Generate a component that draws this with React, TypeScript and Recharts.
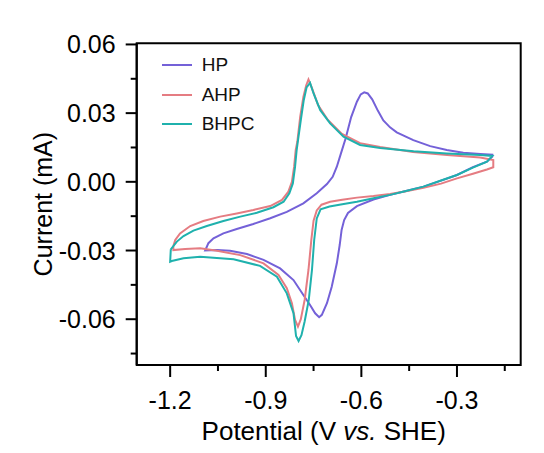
import React from 'react';
import { LineChart, Line, XAxis, YAxis, ReferenceArea, Legend } from 'recharts';

const hpPotential = [-1.087, -1.080, -1.064, -1.033, -0.991, -0.939, -0.886, -0.834, -0.782, -0.740, -0.708, -0.690, -0.677, -0.665, -0.649, -0.632, -0.614, -0.602, -0.591, -0.580, -0.566, -0.548, -0.531, -0.510, -0.489, -0.437, -0.384, -0.332, -0.280, -0.227, -0.189, -0.189, -0.206, -0.250, -0.300, -0.350, -0.405, -0.460, -0.510, -0.562, -0.614, -0.642, -0.654, -0.662, -0.668, -0.677, -0.693, -0.708, -0.724, -0.7325, -0.745, -0.761, -0.782, -0.813, -0.855, -0.907, -0.959, -1.012, -1.053, -1.090, -1.087];
const hpCurrent = [-0.0290, -0.0268, -0.0247, -0.0225, -0.0206, -0.0184, -0.0159, -0.0131, -0.0094, -0.0050, -0.0010, 0.0022, 0.0066, 0.0120, 0.0191, 0.0283, 0.0350, 0.0382, 0.0391, 0.0386, 0.0360, 0.0310, 0.0268, 0.0238, 0.0216, 0.0182, 0.0156, 0.0139, 0.0127, 0.0122, 0.0119, 0.0110, 0.0088, 0.0064, 0.0030, 0.0005, -0.0021, -0.0040, -0.0057, -0.0077, -0.0106, -0.0136, -0.0167, -0.0210, -0.0276, -0.0356, -0.0458, -0.0530, -0.0581, -0.0591, -0.0574, -0.0538, -0.0494, -0.0429, -0.0378, -0.0341, -0.0315, -0.0301, -0.0298, -0.0300, -0.0290];

const ahpPotential = [-1.190, -1.184, -1.169, -1.137, -1.096, -1.043, -0.991, -0.939, -0.886, -0.849, -0.829, -0.818, -0.811, -0.806, -0.801, -0.792, -0.782, -0.773, -0.766, -0.755, -0.736, -0.705, -0.661, -0.604, -0.541, -0.438, -0.331, -0.227, -0.186, -0.186, -0.206, -0.250, -0.300, -0.350, -0.405, -0.460, -0.510, -0.562, -0.614, -0.660, -0.698, -0.725, -0.740, -0.750, -0.757, -0.766, -0.778, -0.790, -0.799, -0.808, -0.818, -0.834, -0.860, -0.907, -0.980, -1.053, -1.106, -1.153, -1.190, -1.190];
const ahpCurrent = [-0.0280, -0.0254, -0.0225, -0.0193, -0.0171, -0.0152, -0.0138, -0.0123, -0.0106, -0.0079, -0.0043, 0.0000, 0.0066, 0.0139, 0.0175, 0.0284, 0.0371, 0.0422, 0.0447, 0.0409, 0.0335, 0.0270, 0.0209, 0.0169, 0.0152, 0.0130, 0.0117, 0.0106, 0.0095, 0.0064, 0.0054, 0.0035, 0.0015, -0.0008, -0.0026, -0.0041, -0.0053, -0.0062, -0.0069, -0.0078, -0.0087, -0.0100, -0.0125, -0.0170, -0.0254, -0.0385, -0.0516, -0.0600, -0.0632, -0.0603, -0.0530, -0.0465, -0.0407, -0.0356, -0.0320, -0.0301, -0.0290, -0.0293, -0.0298, -0.0280];

const bhpcPotential = [-1.198, -1.179, -1.158, -1.127, -1.085, -1.033, -0.980, -0.928, -0.876, -0.844, -0.826, -0.815, -0.808, -0.803, -0.797, -0.790, -0.781, -0.772, -0.761, -0.750, -0.729, -0.698, -0.656, -0.604, -0.541, -0.436, -0.332, -0.227, -0.189, -0.206, -0.250, -0.300, -0.350, -0.405, -0.460, -0.510, -0.562, -0.614, -0.660, -0.700, -0.728, -0.740, -0.748, -0.755, -0.765, -0.778, -0.788, -0.797, -0.805, -0.813, -0.834, -0.865, -0.918, -1.001, -1.106, -1.158, -1.195, -1.200, -1.198];
const bhpcCurrent = [-0.0295, -0.0261, -0.0237, -0.0213, -0.0193, -0.0171, -0.0152, -0.0135, -0.0111, -0.0087, -0.0050, -0.0007, 0.0066, 0.0139, 0.0200, 0.0270, 0.0355, 0.0412, 0.0432, 0.0386, 0.0313, 0.0255, 0.0197, 0.0161, 0.0148, 0.0134, 0.0124, 0.0117, 0.0113, 0.0088, 0.0062, 0.0030, 0.0006, -0.0021, -0.0040, -0.0057, -0.0072, -0.0087, -0.0098, -0.0108, -0.0120, -0.0160, -0.0254, -0.0385, -0.0516, -0.0610, -0.0670, -0.0695, -0.0673, -0.0574, -0.0487, -0.0414, -0.0367, -0.0338, -0.0327, -0.0334, -0.0346, -0.0349, -0.0295];

const seriesNames = ['HP', 'AHP', 'BHPC'];
const seriesColors = ['#7461d8', '#e57c82', '#1fb1ad'];

const xTicks = [-1.2, -1.05, -0.9, -0.75, -0.6, -0.45, -0.3, -0.15];
const xTickLabels = ['-1.2', '', '-0.9', '', '-0.6', '', '-0.3', ''];
const yTicks = [-0.075, -0.06, -0.045, -0.03, -0.015, 0, 0.015, 0.03, 0.045, 0.06];
const yTickLabels = ['', '-0.06', '', '-0.03', '', '0.00', '', '0.03', '', '0.06'];
const xDomain: [number, number] = [-1.305, -0.1];
const yDomain: [number, number] = [-0.08, 0.0605];

const zip = (xs: number[], ys: number[]) =>
  xs.slice(0, Math.min(xs.length, ys.length)).map((x, i) => ({ x, y: ys[i] }));

const seriesData = [
  zip(hpPotential, hpCurrent),
  zip(ahpPotential, ahpCurrent),
  zip(bhpcPotential, bhpcCurrent),
];

const FONT = '"Liberation Sans", Arial, Helvetica, sans-serif';

const XTick = (props: any) => {
  const { x, y, payload } = props;
  const i = xTicks.indexOf(payload.value);
  const label = i >= 0 ? xTickLabels[i] : '';
  const major = label !== '';
  return (
    <g>
      <line x1={x} y1={y} x2={x} y2={y + (major ? 12 : 6)} stroke="#000" strokeWidth={2} />
      {major && (
        <text x={x} y={y + 44} textAnchor="middle" fontSize={25} fontFamily={FONT} fill="#000">
          {label}
        </text>
      )}
    </g>
  );
};

const YTick = (props: any) => {
  const { x, y, payload } = props;
  const i = yTicks.indexOf(payload.value);
  const label = i >= 0 ? yTickLabels[i] : '';
  const major = label !== '';
  return (
    <g>
      <line x1={x} y1={y} x2={x - (major ? 11 : 6)} y2={y} stroke="#000" strokeWidth={2} />
      {major && (
        <text x={x - 21} y={y + 9} textAnchor="end" fontSize={25} fontFamily={FONT} fill="#000">
          {label}
        </text>
      )}
    </g>
  );
};

const XLabel = (props: any) => {
  const vb = props.viewBox || { x: 0, y: 0, width: 0, height: 0 };
  return (
    <text x={vb.x + vb.width / 2 - 5} y={vb.y + 75} textAnchor="middle" fontSize={26} fontFamily={FONT} fill="#000">
      Potential (V <tspan fontStyle="italic">vs.</tspan> SHE)
    </text>
  );
};

const YLabel = (props: any) => {
  const vb = props.viewBox || { x: 0, y: 0, width: 0, height: 0 };
  const cx = vb.x + vb.width - 85;
  const cy = vb.y + vb.height / 2;
  return (
    <text x={cx} y={cy} transform={`rotate(-90, ${cx}, ${cy})`} textAnchor="middle" fontSize={25} fontFamily={FONT} fill="#000">
      Current (mA)
    </text>
  );
};

const LegendContent = () => (
  <div style={{ fontFamily: FONT }}>
    {seriesNames.map((name, i) => (
      <div key={name} style={{ display: 'flex', alignItems: 'center', height: 29.5 }}>
        <div style={{ width: 30, height: 2, background: seriesColors[i] }} />
        <span style={{ marginLeft: 10, fontSize: 19, color: '#111', lineHeight: '29.5px' }}>{name}</span>
      </div>
    ))}
  </div>
);

export default function App() {
  return (
    <div style={{ width: 536, height: 445, fontFamily: FONT, background: '#fff' }}>
      <LineChart width={536} height={445} margin={{ top: 35.3, right: 23.3, bottom: 8, left: 48.7 }}>
        <ReferenceArea x1={xDomain[0]} x2={xDomain[1]} y1={yDomain[0]} y2={yDomain[1]} fill="none" fillOpacity={0} stroke="#000" strokeWidth={2} ifOverflow="visible" />
        <XAxis
          type="number"
          dataKey="x"
          domain={xDomain}
          ticks={xTicks}
          interval={0}
          allowDataOverflow
          height={80}
          tickSize={0}
          tickMargin={0}
          tickLine={false}
          axisLine={{ stroke: '#000', strokeWidth: 2 }}
          tick={<XTick />}
          label={{ content: <XLabel /> } as any}
        />
        <YAxis
          type="number"
          dataKey="y"
          domain={yDomain}
          ticks={yTicks}
          interval={0}
          allowDataOverflow
          width={80}
          tickSize={0}
          tickMargin={0}
          tickLine={false}
          axisLine={{ stroke: '#000', strokeWidth: 2 }}
          tick={<YTick />}
          label={{ content: <YLabel /> } as any}
        />
        <Legend
          layout="vertical"
          align="center"
          verticalAlign="middle"
          wrapperStyle={{ left: 153.7, top: 42.25, width: 140 }}
          content={<LegendContent />}
        />
        {seriesData.map((d, i) => (
          <Line
            key={seriesNames[i]}
            name={seriesNames[i]}
            data={d}
            dataKey="y"
            type="linear"
            stroke={seriesColors[i]}
            strokeWidth={2}
            dot={false}
            activeDot={false}
            isAnimationActive={false}
          />
        ))}
      </LineChart>
    </div>
  );
}
